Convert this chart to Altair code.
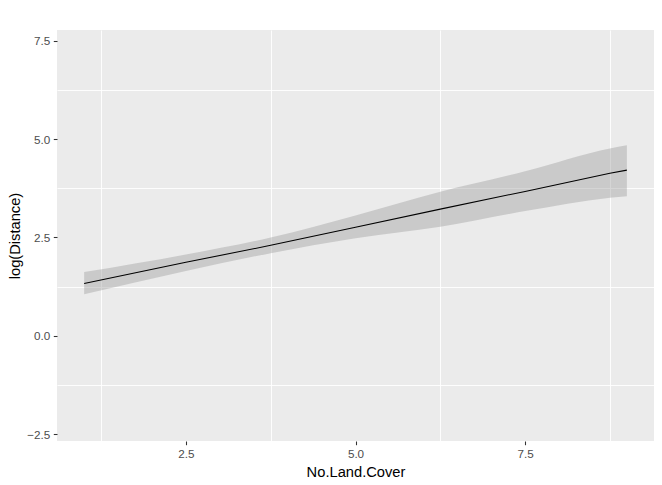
import altair as alt
import pandas as pd

# fitted line and confidence band
x_vals = [1.0, 2.5, 3.75, 5.0, 6.25, 7.5, 8.75, 9.0]
fit = [1.33, 1.87, 2.30, 2.76, 3.22, 3.67, 4.13, 4.21]
lower = [1.06, 1.65, 2.10, 2.48, 2.77, 3.17, 3.51, 3.55]
upper = [1.62, 2.07, 2.50, 3.06, 3.66, 4.18, 4.76, 4.84]

x_major = [2.5, 5.0, 7.5]
x_minor = [1.25, 3.75, 6.25, 8.75]
y_major = [-2.5, 0.0, 2.5, 5.0, 7.5]
y_minor = [-1.25, 1.25, 3.75, 6.25]

df = pd.DataFrame({'x': x_vals, 'fit': fit, 'lower': lower, 'upper': upper})

xscale = alt.Scale(domain=[0.6, 9.4], nice=False, zero=False)
yscale = alt.Scale(domain=[-2.67, 7.77], nice=False, zero=False)

minor = dict(labels=False, ticks=False, domain=False, title=None,
             gridColor='white', gridWidth=0.9)

# ribbon, carries the minor grid lines
band = alt.Chart(df).mark_area(color='#999999', opacity=0.4, interpolate='monotone').encode(
    x=alt.X('x:Q', scale=xscale, axis=alt.Axis(values=x_minor, orient='top', **minor)),
    y=alt.Y('lower:Q', scale=yscale, axis=alt.Axis(values=y_minor, orient='right', **minor)),
    y2='upper:Q'
)

# fitted line, carries the labelled axes
line = alt.Chart(df).mark_line(color='black', strokeWidth=1.07).encode(
    x=alt.X('x:Q', scale=xscale, title='No.Land.Cover',
            axis=alt.Axis(values=x_major, orient='bottom', format='.1f', labelPadding=4,
                          titlePadding=4)),
    y=alt.Y('fit:Q', scale=yscale, title='log(Distance)',
            axis=alt.Axis(values=y_major, orient='left', format='.1f', labelPadding=3.5,
                          titlePadding=4))
)

chart = alt.layer(band, line).resolve_axis(
    x='independent', y='independent'
).properties(
    width=597,
    height=411,
    autosize='none',
    padding={'left': 49, 'top': 22, 'right': 0, 'bottom': 44},
    background='white'
).configure_view(
    fill='#EBEBEB', strokeWidth=0
).configure_axis(
    domain=False,
    gridColor='white',
    gridWidth=1.4,
    tickColor='#333333',
    tickSize=3.7,
    tickWidth=1.07,
    labelFont='Liberation Sans',
    labelFontSize=11.7,
    labelColor='#4D4D4D',
    titleFont='Liberation Sans',
    titleFontSize=14.7,
    titleFontWeight='normal',
    titleColor='black'
)

chart.save("out.html", embed_options={"renderer": "svg", "actions": False})
